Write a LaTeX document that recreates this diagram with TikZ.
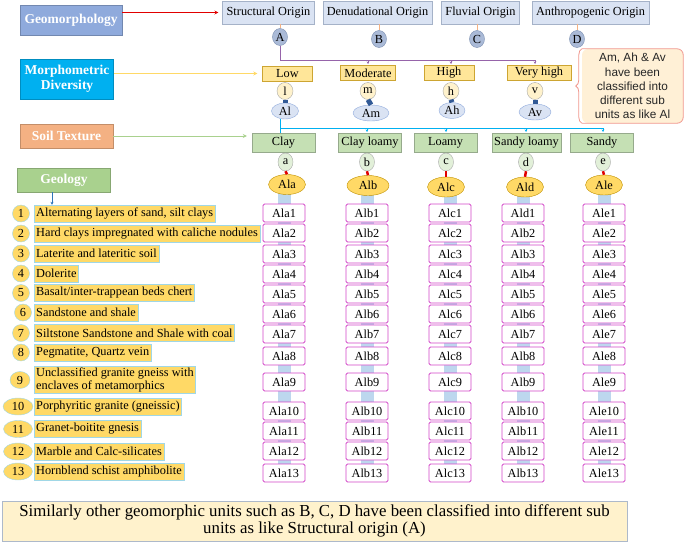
\documentclass[tikz,border=0pt]{standalone}
\usepackage{fontspec}
\setmainfont{Liberation Serif}
\newfontfamily\notefont{Liberation Sans}
\usepackage{tikz}
\usetikzlibrary{shapes.geometric,arrows.meta,positioning,calc,decorations.pathreplacing,backgrounds}
\definecolor{geoBlue}{RGB}{143,170,220}
\definecolor{morphCyan}{RGB}{0,176,240}
\definecolor{soilSalmon}{RGB}{244,177,131}
\definecolor{geolGreen}{RGB}{169,209,142}
\definecolor{originFill}{RGB}{218,227,243}
\definecolor{originLine}{RGB}{165,178,200}
\definecolor{letterFill}{RGB}{170,186,215}
\definecolor{letterLine}{RGB}{120,140,175}
\definecolor{divFill}{RGB}{255,230,153}
\definecolor{divLine}{RGB}{205,165,50}
\definecolor{creamFill}{RGB}{255,242,204}
\definecolor{navyLink}{RGB}{50,90,150}
\definecolor{divPurple}{RGB}{150,100,170}
\definecolor{soilFill}{RGB}{197,224,180}
\definecolor{soilLine}{RGB}{150,170,140}
\definecolor{mintFill}{RGB}{226,240,217}
\definecolor{linkRed}{RGB}{225,0,0}
\definecolor{goldFill}{RGB}{255,217,102}
\definecolor{goldLine}{RGB}{191,144,0}
\definecolor{bandBlue}{RGB}{189,215,238}
\definecolor{cellLine}{RGB}{210,70,200}
\definecolor{listLine}{RGB}{160,215,230}
\definecolor{noteFill}{RGB}{255,240,214}
\definecolor{noteLine}{RGB}{240,150,140}
\definecolor{footLine}{RGB}{173,185,202}
\definecolor{geolArrow}{RGB}{46,117,182}

\begin{document}
\begin{tikzpicture}[x=1pt, y=-1pt,
        heading/.style={rectangle, draw=#1!80!black, fill=#1, text=white, font=\fontsize{13.5}{15}\selectfont\bfseries, align=center, minimum width=93pt, line width=0.5pt},
        originbox/.style={rectangle, draw=originLine, fill=originFill, minimum height=23pt, inner xsep=4pt, font=\fontsize{12.3}{14}\selectfont},
        unitdot/.style={ellipse, draw=letterLine, fill=letterFill, minimum width=15pt, minimum height=17pt, inner sep=0pt, font=\fontsize{12.3}{14}\selectfont},
        divbox/.style={rectangle, draw=divLine, fill=divFill, minimum width=50pt, minimum height=15pt, inner xsep=4pt, inner ysep=0pt, font=\fontsize{12.3}{14}\selectfont},
        letterdot/.style={ellipse, draw=gray!70, fill=#1, minimum width=16pt, minimum height=17pt, inner sep=0pt, font=\fontsize{12.3}{14}\selectfont},
        subdot/.style={ellipse, draw=geoBlue, fill=originFill, minimum height=16pt, inner sep=0pt, font=\fontsize{12.3}{14}\selectfont},
        soilbox/.style={rectangle, draw=soilLine, fill=soilFill, minimum width=63pt, minimum height=19pt, inner xsep=2pt, inner ysep=0pt, font=\fontsize{12.3}{14}\selectfont},
        combodot/.style={ellipse, draw=goldLine, fill=goldFill, minimum width=37pt, minimum height=20pt, inner sep=0pt, font=\fontsize{12.3}{14}\selectfont},
        cellbox/.style={rectangle, rounded corners=1.5pt, draw=cellLine, fill=white, line width=0.8pt, minimum width=42pt, minimum height=18pt, inner sep=0pt, font=\fontsize{12.3}{14}\selectfont},
        numdot/.style={ellipse, draw=listLine, fill=goldFill, minimum width=#1, minimum height=17pt, inner sep=0pt, font=\fontsize{12.3}{14}\selectfont},
        rockbox/.style={rectangle, draw=listLine, fill=goldFill, anchor=west, minimum height=17pt, inner xsep=2pt, inner ysep=1pt, align=left, font=\fontsize{12.3}{13.5}\selectfont},
        notebox/.style={rectangle, rounded corners=6pt, fill=noteFill, minimum width=101pt, minimum height=74pt, inner sep=1pt, align=center, text=black!85, font=\notefont\fontsize{11.8}{14.2}\selectfont},
        footbox/.style={rectangle, draw=footLine, fill=creamFill, minimum width=625pt, minimum height=40pt, align=center, font=\fontsize{16.8}{17.5}\selectfont},
        colband/.style={line width=13pt, bandBlue},
        tickarrow/.style={-{Stealth[length=2.5pt, width=2.5pt]}, line width=0.6pt}
    ]
        \useasboundingbox (0,0) rectangle (685,542);

        % Headings on the left
        \node[heading=geoBlue, minimum width=102pt, minimum height=30pt] (geomorph) at (71,20) {Geomorphology};
        \node[heading=morphCyan, minimum height=40pt] (morph) at (67,79) {Morphometric\\Diversity};
        \node[heading=soilSalmon, minimum height=24pt] (soil) at (66.5,136) {Soil Texture};
        \node[heading=geolGreen, minimum height=24pt] (geology) at (64,180) {Geology};

        % Geomorphic origins
        \node[originbox] (structural) at (268.5,12.5) {Structural Origin};
        \node[originbox] (denudational) at (377.5,12.5) {Denudational Origin};
        \node[originbox] (fluvial) at (480.5,12.5) {Fluvial Origin};
        \node[originbox] (anthropogenic) at (590.5,12.5) {Anthropogenic Origin};

        \node[unitdot] (A) at (280,37) {A};
        \node[unitdot] (B) at (379,39) {B};
        \node[unitdot] (C) at (477,39) {C};
        \node[unitdot] (D) at (577,39) {D};

        % Morphometric diversity
        \node[divbox] (low) at (287.5,73.5) {Low};
        \node[divbox] (moderate) at (368,73) {Moderate};
        \node[divbox] (high) at (449,73) {High};
        \node[divbox, minimum width=64pt] (veryhigh) at (539,73) {Very high};

        \node[letterdot=creamFill] (l) at (285,91) {l};
        \node[letterdot=creamFill] (m) at (368,91) {m};
        \node[letterdot=creamFill] (h) at (451,91) {h};
        \node[letterdot=creamFill] (v) at (535,91) {v};

        \node[subdot, minimum width=27pt] (Al) at (285,111) {Al};
        \node[subdot, minimum width=36pt] (Am) at (371,113) {Am};
        \node[subdot, minimum width=26pt] (Ah) at (452,110.5) {Ah};
        \node[subdot, minimum width=32pt] (Av) at (535,112) {Av};

        % Note on the right
        \node[notebox] (note) at (632.5,86) {Am, Ah \& Av\\have been\\classified into\\different sub\\units as like Al};

        % Soil texture
        \node[soilbox] (clay) at (283.5,143) {Clay};
        \node[soilbox] (clayloamy) at (370,142.5) {Clay loamy};
        \node[soilbox] (loamy) at (445.5,142.5) {Loamy};
        \node[soilbox, minimum width=69pt] (sandyloamy) at (526.5,142.5) {Sandy loamy};
        \node[soilbox] (sandy) at (602,142.5) {Sandy};

        \node[letterdot=mintFill, minimum width=15pt, minimum height=18pt] (a) at (285.5,162) {a};
        \node[letterdot=mintFill, minimum width=15pt, minimum height=18pt] (b) at (367,162) {b};
        \node[letterdot=mintFill, minimum width=15pt, minimum height=18pt] (c) at (446,162) {c};
        \node[letterdot=mintFill, minimum width=15pt, minimum height=18pt] (d) at (526,162) {d};
        \node[letterdot=mintFill, minimum width=15pt, minimum height=18pt] (e) at (603,162) {e};

        \node[combodot] (Ala) at (287,184.5) {Ala};
        \node[combodot, minimum width=42pt] (Alb) at (368,185.5) {Alb};
        \node[combodot] (Alc) at (446,187) {Alc};
        \node[combodot] (Ald) at (525,187) {Ald};
        \node[combodot] (Ale) at (604,185) {Ale};

        % Geology list
        \foreach \n/\y/\w/\x/\txt in {1/213.5/17/21/{Alternating layers of sand, silt clays},
                2/233.5/17/21/{Hard clays impregnated with caliche nodules},
                3/253.5/17/21/{Laterite and lateritic soil},
                4/273.5/17/21/{Dolerite},
                5/293/17/21/{Basalt/inter-trappean beds chert},
                6/312.5/17/23/{Sandstone and shale},
                7/333/17/21/{Siltstone Sandstone and Shale with coal},
                8/352.5/17/21/{Pegmatite, Quartz vein},
                9/380/20/20/{Unclassified granite gneiss with\\enclaves of metamorphics},
                10/406.5/30/18/{Porphyritic granite (gneissic)},
                11/429/29/18/{Granet-boitite gnesis},
                12/451.5/29/18/{Marble and Calc-silicates},
                13/471.5/29/18/{Hornblend schist amphibolite}}
        {
            \node[numdot=\w pt] (num\n) at (\x,\y) {\n};
            \node[rockbox] (rock\n) at (34,\y) {\txt};
        }

        % Sub unit cells
        \foreach \c/\x/\first/\rest in {a/284/Ala/Ala, b/367/Alb/Alb, c/450/Alc/Alc, d/523/Ald/Alb, e/604/Ale/Ale}
            \foreach \r/\y in {1/213, 2/233, 3/254, 4/274, 5/294, 6/314, 7/334, 8/356, 9/382, 10/411, 11/431, 12/451, 13/473}
                \node[cellbox] (\c\r) at (\x,\y) {\ifnum\r=1 \first\else\rest\fi\r};

        % Footer
        \node[footbox] (footer) at (314.5,521) {Similarly other geomorphic units such as B, C, D have been classified into different sub\\units as like Structural origin (A)};

        % Connectors
        \coordinate (divbar) at (0,60);
        \coordinate (soilbar) at (0,128);

        \draw[linkRed, line width=0.8pt, -{Stealth[length=4pt, width=4pt]}, shorten >=4pt] (geomorph.east |- structural.west) -- (structural.west);
        \draw[goldFill, line width=0.8pt, -{Stealth[length=4pt, width=4pt]}, shorten >=5pt] (morph.east |- low.west) -- (low.west);
        \draw[geolGreen, line width=0.8pt, -{Stealth[length=4pt, width=4pt]}, shorten >=5pt] (soil.east) -- (soil.east -| clay.west);
        \draw[geolArrow, line width=0.6pt, -{Stealth[length=3pt, width=3pt]}] ([xshift=-12pt]geology.south) -- ([xshift=-12pt]geology.south |- rock1.north);

        \draw[soilSalmon, line width=0.8pt] (structural.south -| A) -- (A.north);
        \draw[soilSalmon, line width=0.8pt] (denudational.south -| B) -- (B.north);
        \draw[soilSalmon, line width=0.8pt] (fluvial.south -| C) -- (C.north);
        \draw[soilSalmon, line width=0.8pt] (anthropogenic.south -| D) -- (D.north);

        \draw[divPurple, line width=0.8pt] (A.south) -- (A |- divbar) -- (v |- divbar);
        \foreach \n in {m, h, v}
            \draw[divPurple, tickarrow] (\n |- divbar) -- ++(0,4);

        \draw[navyLink, line width=5pt] (l.south) -- (Al.north);
        \draw[navyLink, line width=5pt] (m.south) -- (Am.north);
        \draw[navyLink, line width=5pt] (h.south) -- (Ah.north);
        \draw[navyLink, line width=5pt] (v.south) -- (Av.north);

        \draw[morphCyan, line width=0.8pt] (A |- Al.south) -- (A |- clay.north);
        \draw[morphCyan, line width=0.8pt] (A |- soilbar) -- (e |- soilbar);
        \foreach \n in {b, c, d, e}
            \draw[morphCyan, tickarrow] (\n |- soilbar) -- ++(0,4);

        \draw[linkRed, line width=2.5pt] (a.south) -- (Ala.north);
        \draw[linkRed, line width=2.5pt] (b.south) -- (Alb.north);
        \draw[linkRed, line width=2.5pt] (c.south) -- (Alc.north);
        \draw[linkRed, line width=2.5pt] (d.south) -- (Ald.north);
        \draw[linkRed, line width=2.5pt] (e.south) -- (Ale.north);

        \draw[noteLine, line width=0.8pt, rounded corners=6pt] (note.north west) -- (note.north east) -- (note.south east) -- (note.south west);
        \draw[noteLine, line width=0.8pt, decorate, decoration={brace, amplitude=6pt}] (note.south west) -- (note.north west);

        % Column bands behind the cells
        \begin{scope}[on background layer]
            \foreach \c/\t in {a/Ala, b/Alb, c/Alc, d/Ald, e/Ale}
                \draw[colband] (\c1 |- \t.center) -- (\c13.center);
        \end{scope}
    \end{tikzpicture}
\end{document}
